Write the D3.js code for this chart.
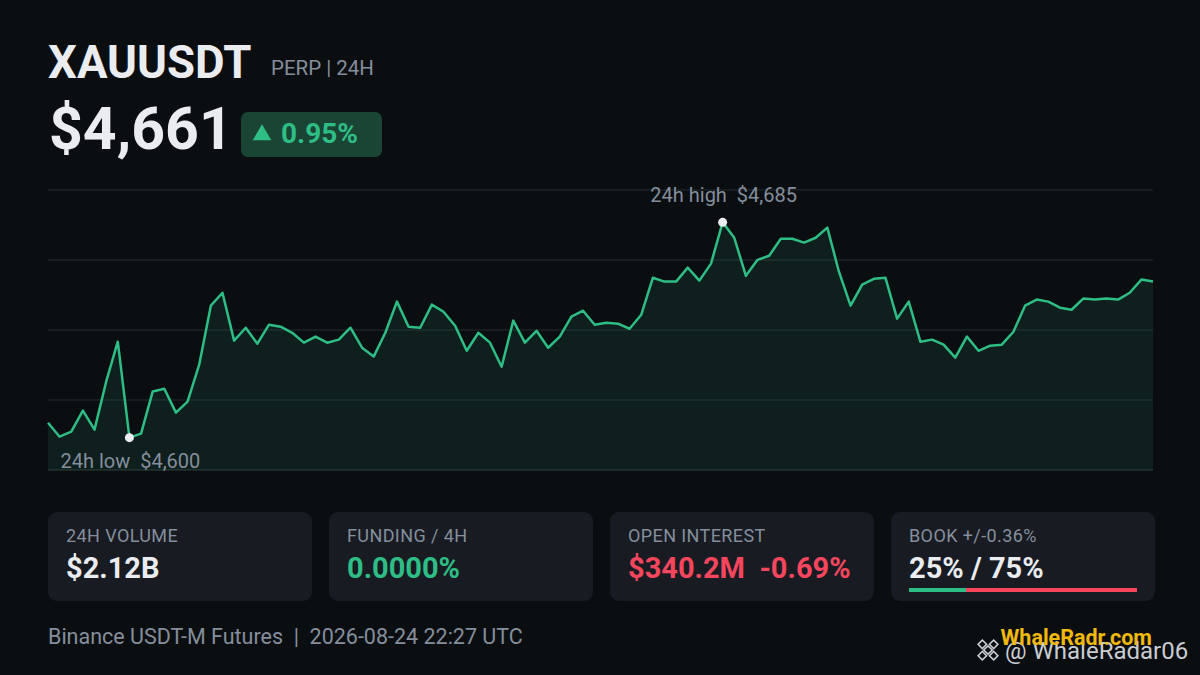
<!DOCTYPE html>
<html>
<head>
<meta charset="utf-8">
<script src="https://cdn.jsdelivr.net/npm/d3@7"></script>
<style>
  html, body { margin: 0; padding: 0; background: #0b0e11; }
  svg { display: block; font-family: Roboto, "Noto Sans", sans-serif; }
</style>
</head>
<body>
<div id="card"></div>
<script>
// 24h price, 15 minute steps
var prices = [4605.9, 4600.4, 4602.4, 4610.7, 4603.2, 4622.1, 4637.9, 4600.0, 4601.6, 4618.2,
  4619.3, 4609.9, 4614.2, 4628.8, 4652.1, 4657.2, 4638.3, 4643.4, 4637.1, 4644.6,
  4643.8, 4641.4, 4637.5, 4639.9, 4637.5, 4638.7, 4643.4, 4635.5, 4632.0, 4641.4,
  4653.7, 4643.8, 4643.4, 4652.5, 4649.7, 4644.2, 4634.3, 4641.4, 4637.5, 4628.0,
  4646.2, 4637.5, 4642.2, 4635.5, 4639.9, 4647.8, 4650.1, 4644.6, 4645.4, 4645.0,
  4643.0, 4648.5, 4663.1, 4661.6, 4661.6, 4667.1, 4662.0, 4668.7, 4685.0, 4678.9,
  4663.9, 4670.2, 4671.8, 4678.5, 4678.5, 4677.0, 4678.9, 4682.9, 4665.5, 4652.1,
  4660.4, 4662.7, 4663.1, 4647.0, 4653.7, 4637.9, 4638.7, 4636.7, 4631.6, 4639.9,
  4634.3, 4636.3, 4636.7, 4641.8, 4652.1, 4654.5, 4653.7, 4651.3, 4650.5, 4654.9,
  4654.5, 4654.9, 4654.5, 4657.2, 4662.4, 4661.6];

var symbol = 'XAUUSDT'
var subtitle = 'PERP | 24H'
var lastPrice = '$4,661'
var change = '0.95%'

var statLabels = ['24H VOLUME', 'FUNDING / 4H', 'OPEN INTEREST', 'BOOK +/-0.36%']
var statValues = ['$2.12B', '0.0000%', '$340.2M  -0.69%', '25% / 75%']
var statColors = ['#eaecef', '#2ebd85', '#f6465d', '#eaecef']
var bookBid = 25, bookAsk = 75

var footer = 'Binance USDT-M Futures  |  2026-08-24 22:27 UTC'

var W = 1200, H = 675
var green = '#2ebd85', red = '#f6465d', grey = '#848e9c'

var svg = d3.select('#card')
  .append('svg')
  .attr('width', W)
  .attr('height', H);

svg.append('rect').attr('width', W).attr('height', H).attr('fill', '#0b0e11');

// header
svg.append('text')
  .attr('x', 48).attr('y', 78)
  .attr('fill', '#eaecef')
  .style('font-size', '45.5px').style('font-weight', 700)
  .text(symbol);
svg.append('text')
  .attr('x', 271).attr('y', 75)
  .attr('fill', grey)
  .style('font-size', '20.5px')
  .text(subtitle);
svg.append('text')
  .attr('x', 49).attr('y', 149)
  .attr('fill', '#eaecef')
  .style('font-size', '59px').style('font-weight', 700)
  .text(lastPrice);

svg.append('rect')
  .attr('x', 241).attr('y', 112)
  .attr('width', 141).attr('height', 45)
  .attr('rx', 7)
  .attr('fill', '#1a4534');
svg.append('path')
  .attr('d', d3.symbol(d3.symbolTriangle, 150)())
  .attr('transform', 'translate(262,135)')
  .attr('fill', green);
svg.append('text')
  .attr('x', 281).attr('y', 143)
  .attr('fill', green)
  .style('font-size', '28px').style('font-weight', 700)
  .text(change);

// chart
var x = d3.scaleLinear().domain([0, prices.length - 1]).range([48, 1153]);
var lo = d3.min(prices), hi = d3.max(prices)
var pad = (hi - lo) * 0.15
var y = d3.scaleLinear().domain([lo - pad, hi + pad]).range([470, 190]);

var grid = svg.append('g');
grid.selectAll('line')
  .data(d3.range(5))
  .enter()
  .append('line')
  .attr('x1', 48).attr('x2', 1153)
  .attr('y1', function(d){ return 190 + d * 70; })
  .attr('y2', function(d){ return 190 + d * 70; })
  .attr('stroke', function(d){ return d == 4 ? '#2c3a38' : '#252a31'; })
  .attr('stroke-width', 1);

var area = d3.area()
  .x(function(d, i){ return x(i); })
  .y0(470)
  .y1(function(d){ return y(d); });
var line = d3.line()
  .x(function(d, i){ return x(i); })
  .y(function(d){ return y(d); });

svg.append('path')
  .datum(prices)
  .attr('d', area)
  .attr('fill', green)
  .attr('fill-opacity', 0.1);
svg.append('path')
  .datum(prices)
  .attr('d', line)
  .attr('fill', 'none')
  .attr('stroke', green)
  .attr('stroke-width', 2.5)
  .attr('stroke-linejoin', 'round');

var iHi = d3.maxIndex(prices), iLo = d3.minIndex(prices)
var fmt = d3.format(',.0f')
var marks = [
  { i: iHi, label: '24h high  $' + fmt(hi), dy: -20 },
  { i: iLo, label: '24h low  $' + fmt(lo), dy: 30 }
]
svg.selectAll('.mark')
  .data(marks)
  .enter()
  .append('circle')
  .attr('cx', function(d){ return x(d.i); })
  .attr('cy', function(d){ return y(prices[d.i]); })
  .attr('r', 4.5)
  .attr('fill', '#eaecef');
svg.selectAll('.marklabel')
  .data(marks)
  .enter()
  .append('text')
  .attr('x', function(d){ return x(d.i) + 1; })
  .attr('y', function(d){ return y(prices[d.i]) + d.dy; })
  .attr('text-anchor', 'middle')
  .attr('fill', grey)
  .style('font-size', '20px')
  .attr('xml:space', 'preserve')
  .text(function(d){ return d.label; });

// stat cards
var cw = 264, gap = 17
var cards = svg.selectAll('.stat')
  .data(statLabels)
  .enter()
  .append('g')
  .attr('transform', function(d, i){ return 'translate(' + (48 + i * (cw + gap)) + ',512)'; });
cards.append('rect')
  .attr('width', cw).attr('height', 89)
  .attr('rx', 9)
  .attr('fill', '#181b22');
cards.append('text')
  .attr('x', 18).attr('y', 30)
  .attr('fill', grey)
  .style('font-size', '18px')
  .style('letter-spacing', '0.4px')
  .text(function(d){ return d; });
cards.append('text')
  .attr('x', 18).attr('y', 66)
  .attr('fill', function(d, i){ return statColors[i]; })
  .style('font-size', '29px').style('font-weight', 700)
  .attr('xml:space', 'preserve')
  .text(function(d, i){ return statValues[i]; });

var bar = d3.scaleLinear().domain([0, bookBid + bookAsk]).range([0, 228]);
var book = d3.select(cards.nodes()[3]);
book.append('rect')
  .attr('x', 18).attr('y', 76)
  .attr('width', bar(bookBid)).attr('height', 4)
  .attr('fill', green);
book.append('rect')
  .attr('x', 18 + bar(bookBid)).attr('y', 76)
  .attr('width', bar(bookAsk)).attr('height', 4)
  .attr('fill', red);

// footer
svg.append('text')
  .attr('x', 48).attr('y', 644)
  .attr('fill', grey)
  .style('font-size', '21.5px')
  .attr('xml:space', 'preserve')
  .text(footer);

// watermark
var logo = svg.append('g').attr('transform', 'translate(988,650) rotate(45)');
[[0, -8], [0, 8], [-8, 0], [8, 0], [0, 0]].forEach(function(p){
  logo.append('rect')
    .attr('x', p[0] - 3).attr('y', p[1] - 3)
    .attr('width', 6).attr('height', 6)
    .attr('fill', 'none')
    .attr('stroke', '#c9ccd1').attr('stroke-width', 1.6);
});
svg.append('text')
  .attr('x', 1005).attr('y', 659)
  .attr('fill', '#c9ccd1')
  .style('font-size', '24px')
  .attr('xml:space', 'preserve')
  .text('@ WhaleRadar06');
svg.append('text')
  .attr('x', 1152).attr('y', 645)
  .attr('text-anchor', 'end')
  .attr('fill', '#f0b90b')
  .style('font-size', '21.5px').style('font-weight', 700)
  .text('WhaleRadr.com');
</script>
</body>
</html>
